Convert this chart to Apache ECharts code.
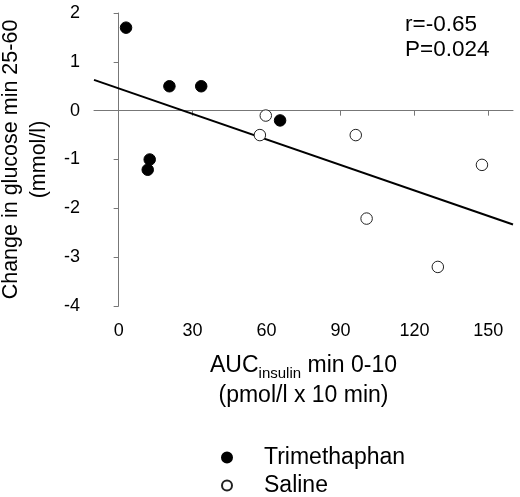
<!DOCTYPE html>
<html>
<head>
<meta charset="utf-8">
<script src="https://cdn.jsdelivr.net/npm/echarts@6.0.0/dist/echarts.min.js"></script>
<style>
  html, body { margin: 0; padding: 0; background: #fff; }
  #main { width: 520px; height: 497px; }
</style>
</head>
<body>
<div id="main"></div>
<script>
// values
var trimethaphan = [[3, 1.7], [20.6, 0.5], [33.5, 0.5], [65.5, -0.2], [12.6, -1.0], [11.8, -1.21]];
var saline = [[59.7, -0.1], [57.3, -0.5], [96.2, -0.5], [147.4, -1.11], [100.6, -2.21], [129.5, -3.2]];
// regression line ends, read at the axis edges
var fitLine = [[-10, 0.63], [160, -2.33]];
var xTicks = [0, 30, 60, 90, 120, 150];
var statsText = 'r=-0.65\nP=0.024';

var font = 'Liberation Sans, Arial, sans-serif';
var axisGray = '#777';

var chart = echarts.init(document.getElementById('main'));

var option = {
  animation: false,
  backgroundColor: '#fff',
  grid: {
    left: 94, right: 7, top: 13, bottom: 191,
    containLabel: false,
    outerBoundsMode: 'none'
  },
  xAxis: {
    type: 'value',
    min: -10,
    max: 160,
    splitLine: { show: false },
    axisLine: { show: true, lineStyle: { color: axisGray, width: 1 } },
    axisTick: { show: true, length: 5, customValues: xTicks, lineStyle: { color: axisGray } },
    axisLabel: { customValues: xTicks, margin: 16, color: '#000', fontSize: 18, fontFamily: font },
    name: '{a|AUC}{s|insulin}{a| min 0-10}\n{a|(pmol/l x 10 min)}',
    nameLocation: 'middle',
    nameGap: 45,
    nameTextStyle: {
      color: '#000',
      fontFamily: font,
      rich: {
        a: { fontSize: 23, lineHeight: 30, color: '#000', fontFamily: font },
        s: { fontSize: 15, lineHeight: 15, padding: [15, 0, 0, 0], verticalAlign: 'top', color: '#000', fontFamily: font }
      }
    }
  },
  yAxis: {
    type: 'value',
    min: -4,
    max: 2,
    interval: 1,
    splitLine: { show: false },
    axisLine: { show: true, lineStyle: { color: axisGray, width: 1 } },
    axisTick: { show: true, length: 5, lineStyle: { color: axisGray } },
    axisLabel: { margin: 14, color: '#000', fontSize: 18, fontFamily: font },
    name: 'Change in glucose min 25-60\n(mmol/l)',
    nameLocation: 'middle',
    nameGap: 39,
    nameTextStyle: { color: '#000', fontSize: 21.5, lineHeight: 28, fontFamily: font }
  },
  legend: {
    data: ['Trimethaphan', 'Saline'],
    orient: 'vertical',
    left: 221,
    top: 446,
    padding: 0,
    itemWidth: 10,
    itemHeight: 10,
    itemGap: 5,
    icon: 'circle',
    textStyle: { color: '#000', fontSize: 23, lineHeight: 23, fontFamily: font, padding: [0, 0, 0, 27] }
  },
  graphic: [{
    type: 'text',
    left: 405,
    top: 12,
    style: { text: statsText, font: '22.5px ' + font, lineHeight: 25, fill: '#000' }
  }],
  series: [
    {
      name: 'fit',
      type: 'line',
      data: fitLine,
      symbol: 'none',
      silent: true,
      z: 1,
      lineStyle: { color: '#000', width: 2 }
    },
    {
      name: 'Trimethaphan',
      type: 'scatter',
      data: trimethaphan,
      symbol: 'circle',
      symbolSize: 11.5,
      z: 3,
      itemStyle: { color: '#000', borderColor: '#000', borderWidth: 1, opacity: 1 }
    },
    {
      name: 'Saline',
      type: 'scatter',
      data: saline,
      symbol: 'circle',
      symbolSize: 11.5,
      z: 3,
      itemStyle: { color: '#fff', borderColor: '#222', borderWidth: 1, opacity: 1 }
    }
  ]
};

chart.setOption(option);
</script>
</body>
</html>
